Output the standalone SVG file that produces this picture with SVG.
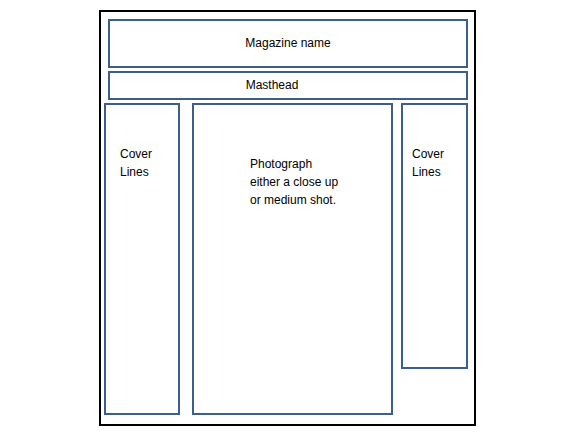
<svg xmlns="http://www.w3.org/2000/svg" width="588" height="440" viewBox="0 0 588 440">
<style>
.box{fill:#fff;stroke:#3A5F8F;stroke-width:2}
.t{font-family:"Liberation Sans",Arial,sans-serif;font-size:12px;fill:#000}
</style>
<rect x="0" y="0" width="588" height="440" fill="#fff"/>
<g id="page"><rect x="100" y="11" width="375" height="414" fill="#fff" stroke="#000" stroke-width="2"/></g>
<g id="magazine-name"><rect class="box" x="109" y="20" width="358" height="47"/><text class="t" x="288" y="47" text-anchor="middle">Magazine name</text></g>
<g id="masthead"><rect class="box" x="109" y="72" width="358" height="27"/><text class="t" x="272" y="89" text-anchor="middle">Masthead</text></g>
<g id="cover-lines-left"><rect class="box" x="105" y="104" width="74" height="310"/><text class="t" x="120" y="158">Cover</text><text class="t" x="120" y="176">Lines</text></g>
<g id="photograph"><rect class="box" x="193" y="104" width="199" height="310"/><text class="t" x="250" y="168">Photograph</text><text class="t" x="250" y="186">either a close up</text><text class="t" x="250" y="204">or medium shot.</text></g>
<g id="cover-lines-right"><rect class="box" x="402" y="104" width="65" height="264"/><text class="t" x="412" y="158">Cover</text><text class="t" x="412" y="176">Lines</text></g>
<g id="connectors"></g>
</svg>
